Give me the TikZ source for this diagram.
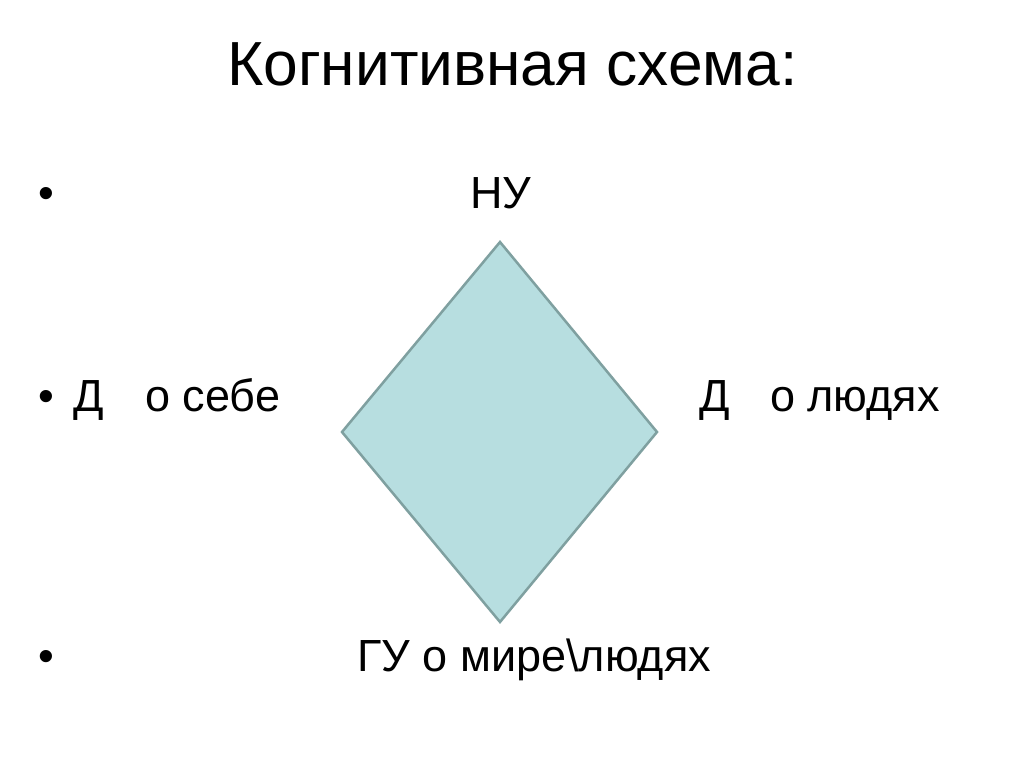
\documentclass[tikz,border=0pt]{standalone}
\usepackage{fontspec}
\setmainfont{Liberation Sans}
\begin{document}
\begin{tikzpicture}[x=1pt,y=-1pt,
  lbl/.style={anchor=base west,inner sep=0pt,font=\fontsize{45}{50}\selectfont},
  ttl/.style={anchor=base west,inner sep=0pt,font=\fontsize{62.3}{72}\selectfont},
  rhomb/.style={fill={rgb,255:red,183;green,222;blue,224},draw={rgb,255:red,127;green,160;blue,160},line width=2.5pt,line join=miter}]
\useasboundingbox[fill=white] (0,0) rectangle (1024,767);
\node[ttl] (title) at (227,86) {Когнитивная схема:};
\node[lbl] (b1) at (38,209) {•};
\node[lbl] (nu) at (470,209) {НУ};
\node[lbl] (b2) at (38,411) {•};
\node[lbl] (d1) at (73,411) {Д};
\node[lbl] (s1) at (145,411) {о себе};
\node[lbl] (d2) at (699,411) {Д};
\node[lbl] (s2) at (770,411) {о людях};
\node[lbl] (b3) at (38,671) {•};
\node[lbl] (gu) at (357,671) {ГУ о мире\textbackslash людях};
\coordinate (top) at (500,242);
\coordinate (left) at (342,432);
\coordinate (right) at (657,432);
\coordinate (bot) at (500,622);
\draw[rhomb] (top) -- (right) -- (bot) -- (left) -- cycle;
\end{tikzpicture}
\end{document}
